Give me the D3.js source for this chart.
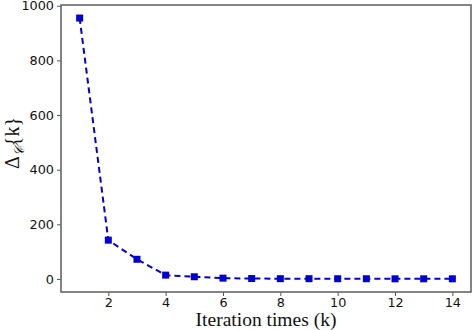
<!DOCTYPE html>
<html><head><meta charset="utf-8">
<script src="https://cdn.jsdelivr.net/npm/d3@7"></script>
<style>body{margin:0;background:#fff}svg{display:block}</style>
</head><body>
<svg id="c" width="474" height="330"></svg>
<script>
const iterations = [1,2,3,4,5,6,7,8,9,10,11,12,13,14];
const deltaValues = [955,142,72,14,8,3,1.5,1,1,0.8,0.8,0.5,0.5,0.5];
const xTicks = [2,4,6,8,10,12,14];
const yTicks = [0,200,400,600,800,1000];

const svg = d3.select("#c");
const m = {l:61, r:471, t:5, b:292};
const x = d3.scaleLinear().domain([0.35,14.65]).range([m.l,m.r]);
const y = d3.scaleLinear().domain([-47.75,1002.75]).range([m.b,m.t]);

const tickFont = "'DejaVu Sans', sans-serif";
const ax = svg.append("g").attr("transform",`translate(0,${m.b})`)
  .call(d3.axisBottom(x).tickValues(xTicks).tickSize(4).tickPadding(2).tickFormat(d3.format("d")));
const ay = svg.append("g").attr("transform",`translate(${m.l},0)`)
  .call(d3.axisLeft(y).tickValues(yTicks).tickSize(4).tickPadding(3).tickFormat(d3.format("d")));
[ax,ay].forEach(g=>{
  g.select(".domain").remove();
  g.selectAll("line").attr("stroke","#555").attr("stroke-width",1);
  g.selectAll("text").attr("font-family",tickFont).attr("font-size",12.8).attr("fill","#111");
});
svg.append("rect").attr("x",m.l).attr("y",m.t).attr("width",m.r-m.l).attr("height",m.b-m.t)
  .attr("fill","none").attr("stroke","#666").attr("stroke-width",1.6);

const line = d3.line().x((d,i)=>x(iterations[i])).y(d=>y(d));
svg.append("path").datum(deltaValues).attr("d",line).attr("fill","none")
  .attr("stroke","#0000d0").attr("stroke-width",2).attr("stroke-dasharray","6,4");
svg.selectAll("rect.pt").data(deltaValues).join("rect").attr("class","pt")
  .attr("x",(d,i)=>x(iterations[i])-3.5).attr("y",d=>y(d)-3.5)
  .attr("width",7).attr("height",7).attr("fill","#0000d0");

svg.append("text").attr("x",(m.l+m.r)/2).attr("y",326).attr("text-anchor","middle")
  .attr("font-family","'Liberation Serif', 'Times New Roman', serif").attr("font-size",19.5).attr("fill","#111")
  .text("Iteration times (k)");

const yl = svg.append("text").attr("transform","translate(19,143) rotate(-90)").attr("text-anchor","middle")
  .attr("font-family","'Liberation Serif', 'Times New Roman', serif").attr("font-size",20).attr("fill","#111");
yl.append("tspan").text("Δ");
yl.append("tspan").attr("font-size",14).attr("dy",5).attr("font-style","italic").text("𝒞");
yl.append("tspan").attr("dy",-5).text("{k}");
</script>
</body></html>
